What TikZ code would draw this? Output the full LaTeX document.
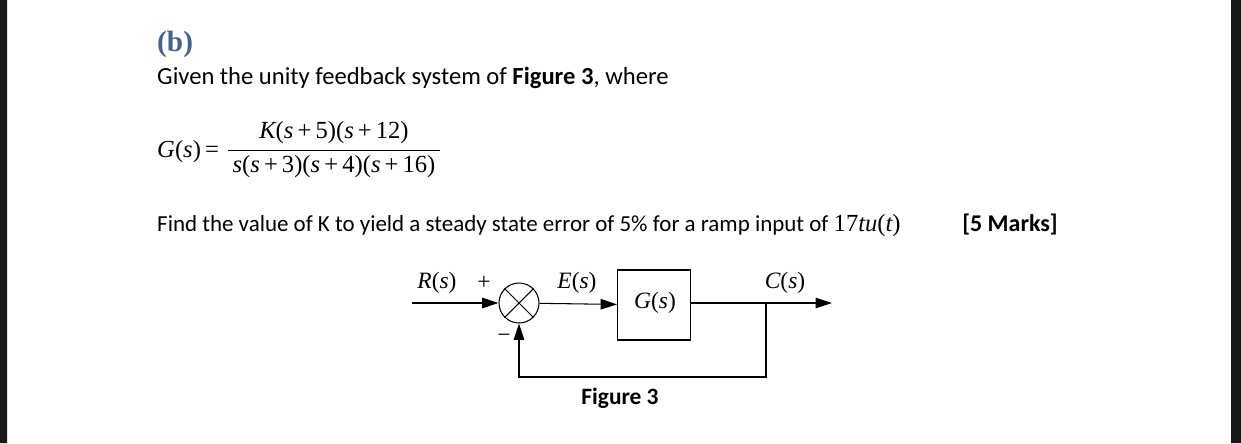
\documentclass[tikz,border=0pt]{standalone}
\usepackage{fontspec}
\setmainfont{Carlito}
\newfontfamily\tms{Liberation Serif}
\usetikzlibrary{arrows.meta}
\newcommand{\mi}[1]{{\tms\itshape #1}}
\definecolor{headblue}{RGB}{68,100,140}
\tikzset{
  txt/.style={anchor=base west,inner sep=0pt,font=\fontsize{20.5}{23}\selectfont},
  lbl/.style={inner sep=0pt,font=\tms\fontsize{20}{22}\selectfont},
  sig/.style={line width=0.9pt,-{Triangle[length=14pt,width=9pt]}},
  wire/.style={line width=0.9pt}
}
\begin{document}
\begin{tikzpicture}[x=0.03cm,y=-0.03cm]
    \useasboundingbox (0,0) rectangle (1241,443);
    \fill[black!90] (0,0) rectangle (7,443) (1231,0) rectangle (1241,443);

    % question text
    \node[txt,font=\tms\bfseries\fontsize{25}{27}\selectfont,text=headblue] (part) at (157,51) {(b)};
    \node[txt,font=\fontsize{21}{23}\selectfont] (given) at (157,84) {Given the unity feedback system of \textbf{Figure 3}, where};
    \node[lbl,anchor=base west,font=\tms\fontsize{21}{23}\selectfont] (geq) at (157,157) {\mi{G}(\mi{s})\,=};
    \node[lbl,font=\tms\fontsize{21}{23}\selectfont] (num) at (334,133) {\mi{K}(\mi{s}\,+\,5)(\mi{s}\,+\,12)};
    \node[lbl,font=\tms\fontsize{21}{23}\selectfont] (den) at (334,167) {\mi{s}(\mi{s}\,+\,3)(\mi{s}\,+\,4)(\mi{s}\,+\,16)};
    \draw[line width=0.8pt] (228,150) -- (440,150);
    \node[txt,font=\fontsize{19.6}{22}\selectfont] (find) at (157,231) {Find the value of K to yield a steady state error of 5\% for a ramp input of {\tms\fontsize{21}{23}\selectfont 17\mi{tu}(\mi{t})}};
    \node[txt,anchor=base east] (marks) at (1058,231) {\textbf{[5 Marks]}};

    % block diagram
    \coordinate (in) at (412,303);
    \node[draw,circle,wire,minimum size=40*0.03cm,inner sep=0pt] (sum) at (519,303) {};
    \draw[wire] (sum.north west) -- (sum.south east) (sum.north east) -- (sum.south west);
    \node[draw,wire,minimum width=73*0.03cm,minimum height=70*0.03cm,inner sep=0pt] (plant) at (654,305) {};
    \node[lbl] (gs) at (655,303) {\mi{G}(\mi{s})};
    \coordinate (out) at (832,303);
    \coordinate (tap) at (766,303);
    \coordinate (low) at (766,377);

    \draw[sig] (in) -- (sum);
    \draw[sig] (sum) -- (plant);
    \draw[sig] (plant.east |- out) -- (out);
    \draw[sig] (tap) -- (low) -| (sum);

    \node[lbl] (r) at (437,283) {\mi{R}(\mi{s})};
    \node[lbl] (plus) at (484,283) {+};
    \node[lbl] (minus) at (504,338) {−};
    \node[lbl] (e) at (577,283) {\mi{E}(\mi{s})};
    \node[lbl] (c) at (785,283) {\mi{C}(\mi{s})};
    \node[txt,anchor=center,font=\bfseries\fontsize{20}{22}\selectfont] (fig) at (620,398) {Figure 3};
\end{tikzpicture}
\end{document}
